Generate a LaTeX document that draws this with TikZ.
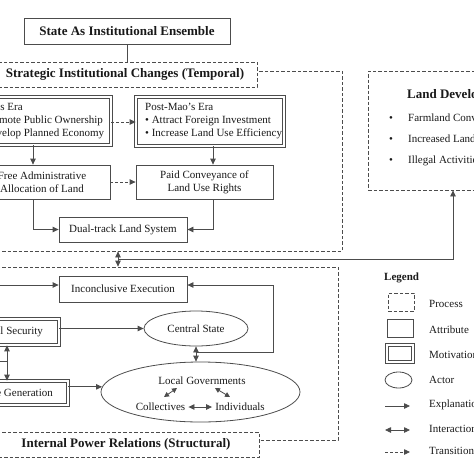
\documentclass[tikz,border=0pt]{standalone}
\usepackage{fontspec}
\setmainfont{Liberation Serif}
\usetikzlibrary{arrows.meta,shapes.geometric,calc}
\begin{document}
\begin{tikzpicture}[x=1pt,y=-1pt,
  font=\fontsize{11}{13}\selectfont,
  every node/.style={text=black!90},
  conn/.style={draw=black!70, line width=0.8pt},
  attr/.style={conn, rectangle, inner sep=0pt, fill=white},
  motiv/.style={draw=black!70, line width=0.7pt, double=white, double distance=1.8pt, rectangle, inner sep=0pt},
  proc/.style={conn, dash pattern=on 3.5pt off 2pt, rectangle, inner sep=0pt},
  actor/.style={conn, ellipse, inner sep=0pt},
  arr/.style={conn, -{Triangle[length=6pt,width=5.5pt]}},
  biarr/.style={conn, {Triangle[length=6pt,width=5.5pt]}-{Triangle[length=6pt,width=5.5pt]}},
  smallbi/.style={conn, {Triangle[length=5pt,width=5pt]}-{Triangle[length=5pt,width=5pt]}},
  darr/.style={arr, dash pattern=on 3pt off 2pt},
  titlef/.style={font=\fontsize{13}{15}\selectfont\bfseries},
  plain/.style={inner sep=0pt},
]
\useasboundingbox (0,0) rectangle (474,474);
\clip (0,0) rectangle (474,474);

% ---------- upper process ----------
\node[proc, minimum width=362pt, minimum height=180pt] (uproc) at (161,161) {};
\node[proc, fill=white, minimum width=264pt, minimum height=25pt, titlef] (strat) at (125,74.5) {Strategic Institutional Changes (Temporal)};
\node[attr, minimum width=206pt, minimum height=26pt, titlef] (state) at (127,31) {State As Institutional Ensemble};
\draw[conn] (state.south) -- (state.south |- strat.north);

\node[motiv, minimum width=143pt, minimum height=48pt] (mao) at (39.5,121) {};
\node[plain, anchor=west, align=left] (maot) at (-23,121) {Mao’s Era\\\textbullet\ Promote Public Ownership\\\textbullet\ Develop Planned Economy};
\node[motiv, minimum width=148pt, minimum height=49pt] (post) at (210,121.5) {};
\node[plain, anchor=west, align=left] (postt) at (145,121.5) {Post-Mao’s Era\\\textbullet\ Attract Foreign Investment\\\textbullet\ Increase Land Use Efficiency};

\node[attr, minimum width=136pt, minimum height=34pt, align=center] (free) at (42,182) {Free Administrative\\Allocation of Land};
\node[attr, minimum width=137pt, minimum height=34pt, align=center] (paid) at (204.5,182) {Paid Conveyance of\\Land Use Rights};
\node[attr, minimum width=128pt, minimum height=25pt] (dual) at (123,229.5) {Dual-track Land System};

\draw[arr] (mao.south -| 33,0) -- (free.north -| 33,0);
\draw[arr] (post.south -| 213,0) -- (paid.north -| 213,0);
\draw[darr] (mao.east |- 0,122) -- (post.west |- 0,122);
\draw[darr] (free.east) -- (paid.west);
\draw[arr] (free.south -| 33,0) |- (dual.west);
\draw[arr] (paid.south -| 213,0) |- (dual.east);

% ---------- land development ----------
\node[proc, minimum width=192pt, minimum height=119pt] (land) at (464,130.5) {};
\node[plain, titlef, anchor=west] (landt) at (407,95) {Land Development};
\node[plain, anchor=west] (lb1) at (389,118) {\makebox[19pt][l]{\textbullet}Farmland Conversion};
\node[plain, anchor=west] (lb2) at (389,139) {\makebox[19pt][l]{\textbullet}Increased Land};
\node[plain, anchor=west] (lb3) at (389,161) {\makebox[19pt][l]{\textbullet}Illegal Activities};

% ---------- lower process ----------
\node[proc, minimum width=358pt, minimum height=173pt] (lproc) at (159,353.5) {};
\node[proc, fill=white, minimum width=266pt, minimum height=25pt, titlef] (ipr) at (126,444.5) {Internal Power Relations (Structural)};

\coordinate (pmid) at (118,259);
\draw[biarr] (uproc.south -| pmid) -- (lproc.north -| pmid);
\draw[arr] (pmid) -| (land.south -| 453,0);

\node[attr, minimum width=128pt, minimum height=26pt] (inc) at (123,289) {Inconclusive Execution};
\coordinate (incin) at (-5,285);
\draw[arr] (incin) -- (inc.west |- incin);

\node[actor, minimum width=104pt, minimum height=35pt] (cs) at (196,328.5) {Central State};
\node[actor, minimum width=199pt, minimum height=60pt] (lg) at (200.5,392) {};
\draw[biarr] (cs.south) -- (cs.south |- lg.north);
\coordinate (csmid) at (196,352);
\coordinate (corner) at (273,285);
\draw[arr] (csmid) -| (corner) -- (inc.east |- corner);

\node[motiv, minimum width=99pt, minimum height=26pt] (sec) at (9.5,332) {Social Security};
\draw[arr] (sec.east |- cs.west) -- (cs.west);
\node[motiv, minimum width=120.5pt, minimum height=24pt] (gen) at (7.75,393) {Revenue Generation};
\draw[arr] (gen.east |- lg.177.7) -- (lg.177.7);
\draw[biarr] (sec.south -| 7,0) -- (gen.north -| 7,0);
\coordinate (secin) at (-5,361);
\draw[conn] (secin) -- (secin -| 7,0);

\node[plain] (lgt) at (202,381) {Local Governments};
\node[plain] (col) at (160.5,407) {Collectives};
\node[plain] (ind) at (240,407) {Individuals};
\draw[biarr, shorten <=3pt, shorten >=3pt] (col.east) -- (ind.west);
\coordinate (d1a) at (164,397);
\coordinate (d1b) at (177,388);
\coordinate (d2a) at (215,388);
\coordinate (d2b) at (230,397);
\draw[smallbi] (d1a) -- (d1b);
\draw[smallbi] (d2a) -- (d2b);

% ---------- legend ----------
\node[plain, anchor=west, font=\fontsize{11}{13}\selectfont\bfseries] (legt) at (384,278) {Legend};
\node[proc, minimum width=26pt, minimum height=18pt] (lgp) at (401,302) {};
\node[attr, minimum width=26pt, minimum height=18pt] (lga) at (400,328) {};
\node[motiv, minimum width=26pt, minimum height=17pt] (lgm) at (400,353.5) {};
\node[actor, minimum width=27pt, minimum height=16pt] (lgac) at (398.5,380) {};
\coordinate (le1) at (385,406); \coordinate (le2) at (410,406);
\coordinate (li1) at (385,430); \coordinate (li2) at (410,430);
\coordinate (lt1) at (385,452); \coordinate (lt2) at (410,452);
\draw[arr] (le1) -- (le2);
\draw[biarr] (li1) -- (li2);
\draw[darr] (lt1) -- (lt2);
\node[plain, anchor=west] (tp) at (429,304) {Process};
\node[plain, anchor=west] (ta) at (429,330) {Attribute};
\node[plain, anchor=west] (tm) at (429,355) {Motivation};
\node[plain, anchor=west] (tac) at (429,380) {Actor};
\node[plain, anchor=west] (te) at (429,405) {Explanation};
\node[plain, anchor=west] (ti) at (429,429) {Interaction};
\node[plain, anchor=west] (tt) at (429,451) {Transition};
\end{tikzpicture}
\end{document}
